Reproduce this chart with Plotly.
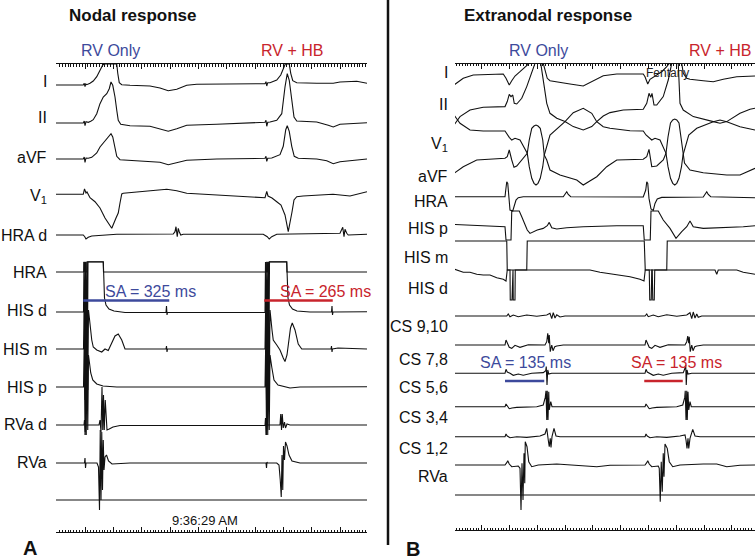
import plotly.graph_objects as go

W, H = 755, 559

# ---------------- Panel A (Nodal response) : time in ms, amplitude in display units ----------------
A_I_t = [0,109,113,116,119,123,136,149,163,176,187,193,243,247,253,263,296,376,416,449,483,523,563,836,840,843,847,856,883,899,909,917,933,939,947,963,1043,1109,1136,1203,1244]
A_I_v = [0,0,1.7,-1.7,1,0.3,1.7,4,8.3,14,20,21,21,11.7,2.3,0.3,-0.3,-1,-3,-5.7,-4.3,-0.3,0.7,1.3,3.3,-1,2.3,2.3,5,10,16.7,21,21,11.7,4.3,2.3,1.7,1.7,3,3.7,1.7]

A_II_t = [0,109,113,116,120,129,139,149,163,176,189,203,213,220,227,236,243,249,259,296,376,416,449,483,523,643,836,840,843,847,856,883,903,916,925,933,943,952,963,1043,1089,1109,1136,1244]
A_II_v = [0,0,2,-2.7,1.3,0.7,1.7,3.3,9.3,19.3,26,29.3,34.3,41,37.7,26,12.7,2.7,-1.3,-2.7,-3.3,-5.7,-8.3,-5.7,-2.3,-1.3,0.7,2.7,-3.3,0.7,1,2.7,9.3,36,49.3,42.7,22.7,6,2,1,-2.3,-4,-1.3,0.3]

A_aVF_t = [0,109,113,116,120,129,143,163,176,189,205,213,220,227,236,243,256,296,416,449,483,523,643,836,840,843,847,863,896,909,919,925,933,943,953,969,1043,1083,1109,1136,1244]
A_aVF_v = [0,0,2,-3.3,1,0.7,1.7,6,12,16,20,22.7,25.3,22,11,2.7,-0.7,-1.3,-3.3,-5.7,-4,-1.3,0,0.7,2.7,-2.3,0.7,1,4.3,12.7,29.3,33.3,27.7,12.7,2.7,0.7,0,-1.7,-4.7,-2.7,0]

A_V1_t = [0,109,114,120,124,136,156,176,196,223,240,249,256,263,269,443,483,523,836,843,848,864,883,900,916,929,944,952,963,988,1108,1176,1244]
A_V1_v = [0,0,5.3,1.3,2.3,-3.4,-7.4,-13.7,-23.7,-34,-23.7,-18.7,-8.7,0.3,1,5,3.6,1,-3.4,2.8,-1.7,-3.7,-7.4,-10.7,-20.7,-37.4,-17.7,-5.7,-2.4,-1.7,0,-1.7,2.6]

A_HRAd_t = [0,109,115,120,129,143,243,469,476,480,485,489,493,499,509,829,845,853,863,883,1136,1143,1147,1152,1156,1163,1169,1244]
A_HRAd_v = [0,0,-1.7,-4,-2.3,-1,0.7,1,3.3,8.3,-1.7,6.7,3.3,0,0.7,0.7,-1.7,-4,-1.7,0.7,1.7,5,7.7,-1.7,5.7,1.7,0,0.7]

A_HRA_t = [0,111,112,113,116,117,118,123,124,189,190,842,843,844,847,848,849,852,853,923,924,1244]
A_HRA_v = [0,0,10.3,0,0,10.3,0,0,10.3,10.3,0,0,10.3,0,0,10.3,0,0,10.3,10.3,0,0]

A_HISd_t = [0,110,112,114.8,117.6,120.4,123.2,126,128,189.2,194,200,212,232,276,440,442,444,446,836,838,840.8,843.6,846.4,849.2,852,854,922.8,928,934,946,964,1016,1102,1104,1106,1108,1244]
A_HISd_v = [0,0,50,-38,50,-38,50,-28,50,50,14,7,3,1,-0.5,-0.5,6,-3,-0.5,-0.5,50,-38,50,-38,50,-28,50,50,14,7,3,1,0,0,6,-3,0,0.3]

A_HISm_t = [0,110,113,116,118,121,124,127,130,136,143,149,163,183,196,209,224,236,249,263,276,440,442,444,446,836,839,842,844,847,850,853,856,864,869,883,896,909,916,924,932,938,945,956,969,983,1100,1102,1104,1106,1128,1244]
A_HISm_v = [0,0,49,-51,49,-51,49,-41,39,24,9,2,-1,-3,0,-1.5,6,13,15,9,0,0,3,-3,0,0,49,-51,49,-51,49,-41,39,19,9,4,-1,-9,-12.5,-6,9,21,26,19,5,0,0,3,-3,0,1,0]

A_HISp_t = [0,110,113,116,118,121,124,127,130,133,139,147,163,188,243,836,839,842,844,847,850,853,856,863,872,888,936,976,1244]
A_HISp_v = [0,0,47,-48,47,-48,42,-43,32,27,14,7,3,1,0,0,47,-48,47,-48,42,-43,32,20,7,2,-1,0,0.3]

A_RVad_t = [0,112,114,117,119,172,176,180,184,187,190,193,197,200,204,213,228,256,836,838,840,842,896,899,902,905,909,914,918,924,936,1244]
A_RVad_v = [0,0,5,-7,0,0,5,-7,38,-5,30,-5,25,5,-5,-4,-2,-0.5,-0.5,7,-10,0,0,11,-5,11,-3,3,-3,1,0,0]

A_RVa_t = [0,114,116,118,120,164,170,174,177,180,183,186,189,192,196,202,210,224,296,840,842,844,846,883,892,897,901,904,907,910,914,918,924,932,944,976,1244]
A_RVa_v = [0,0,5,-5,0,0,-4,-47,33,-37,31,-27,23,-7,6,8,2,-1,0,0,-5,1,0,0,-2,-17,-34,8,-27,17,3,21,17,8,2,0,0]

A_flat_t = [0,1244]
A_flat_v = [0,0]

A_labels = ["I", "II", "aVF", "V<sub>1</sub>", "HRA d", "HRA", "HIS d", "HIS m", "HIS p", "RVa d", "RVa"]

# SA intervals (ms on the panel time axis)
A_SA_blue = [109, 453]
A_SA_red = [833, 1107]

# ---------------- Panel B (Extranodal response) ----------------
B_I_t = [-4,33,73,193,204,217,227,240,260,280,297,353,360,369,380,420,460,513,553,593,647,753,760,771,780,800,827,847,857,907,913,927,940,993,1033,1073,1127,1200]
B_I_v = [-11,-4.3,-1,0,-4.3,-11,-6.7,-2,2.3,6.7,10.7,10.7,4,-4.3,-6.7,-8.7,-10,-12,-6.7,-1.7,0,0,-2.7,-10,-5.3,-2,2.3,7.3,10.7,10.7,0.7,-4.3,-5.3,-6.7,-7.7,-5.3,-2.7,-2]

B_II_t = [-4,20,60,113,200,209,217,224,231,237,247,267,287,307,320,343,353,367,380,407,440,473,513,547,567,593,620,673,753,767,776,783,788,796,807,833,853,867,893,897,900,913,953,1033,1060,1087,1140,1180,1200]
B_II_v = [-15.7,-7.3,-0.7,2,2.7,7.7,15,12.7,14.3,6,5.3,11,22.7,36,46,46,29.3,6,-4,-9,-12.3,-17.3,-20.7,-17.3,-12.3,-6.7,-3.3,-0.7,0,6,16,12,16,4.3,4.3,12.7,29.3,46,46,29.3,6,-0.7,-7.3,-12.3,-14,-12.3,-4,0,1]

B_V1_t = [-4,20,60,113,200,209,217,227,240,260,289,297,307,316,324,332,341,351,357,380,420,440,473,513,547,567,593,620,700,753,764,773,787,800,820,844,852,862,871,879,887,896,906,912,935,967,1033,1060,1087,1140,1200]
B_V1_v = [16,7.7,1,0,0,-4,-6.3,-9,-7.3,-9,-22.3,-35.7,-47.3,-52.3,-54,-52.3,-47.3,-35.7,-24,-4,4.3,9.3,18.3,22.7,17.7,9.3,4.3,2.7,0.3,0,-4,-6.3,-9,-7.3,-9,-22.3,-35.7,-47.3,-52.3,-54,-52.3,-47.3,-35.7,-24,-4,2.7,9.3,11,9.3,4.3,1]

B_aVF_t = [-4,33,87,200,209,217,227,236,247,267,289,297,307,316,324,332,341,351,357,367,380,420,487,513,567,607,647,753,767,776,787,807,833,844,852,862,871,879,887,896,909,918,940,993,1087,1140,1200]
B_aVF_v = [-14.3,-7.7,-1,0.7,2.3,9,-1,-8.3,-7,-1,5.7,19,30.7,33,34,33,30.7,19,4,-1,-11,-16,-21,-26,-17.7,-7.7,-1,-0.3,2.3,9.7,-7.7,-7,-1,5.7,22,36,39,40,39,36,10,-4,-11,-13.7,-16,-16,-9.3]

B_HRA_t = [-4,200,203,207,211,215,220,231,237,244,253,273,433,440,447,453,463,753,763,767,771,776,784,793,800,809,827,993,1000,1007,1013,1023,1200]
B_HRA_v = [0,0,6.7,15,13.3,1.7,-13.3,-14.3,-8.3,-3.3,-1,0,0,2.3,5,2.3,0,-0.3,6.7,15,13.3,-1.7,-12.3,-13.7,-6.7,-2.3,-0.7,-0.3,2.3,5,2.3,0,-1]

B_HISp_t = [-4,113,200,204,224,227,257,267,280,289,300,313,329,353,369,377,387,407,447,513,647,753,757,781,784,813,833,860,884,907,927,940,953,993,1073,1153,1200]
B_HISp_v = [1.3,0,-1,-14.3,-14.3,14.7,14.7,9,0.7,-4.3,-7.7,-6,-4.3,-2.7,0,3.3,-2,-3.3,-2,-1,0,0,-14.3,-14.3,14.7,14.7,5.7,-2.7,-12.7,-6,-1,4.7,-1,-2.7,-2,-1,0]

B_HISm_t = [-4,207,209,287,289,757,761,847,849,1200]
B_HISm_v = [0,0,-29,-29,0,0,-29,-29,0,0]

B_HISd_t = [-4,33,60,87,113,140,167,193,204,209,220,221,228,229,232,233,240,241,540,580,647,700,740,756,761,777,779,785,787,789,791,797,799,1040,1047,1053,1127,1153,1200]
B_HISd_v = [1,-2.3,-2.3,-4.3,-5,-5,-7.7,-9.3,-11,0,0,-30,-30,0,0,-30,-30,0,0,-2.3,-5,-6.7,-9.3,-11,0,0,-30,-30,0,0,-30,-30,0,0,-4.3,0,0,-2.3,-4.3]

B_CS910_t = [-4,207,213,220,233,253,287,327,367,380,387,393,400,407,420,440,760,767,773,793,813,847,887,927,940,947,953,960,967,973,987,1200]
B_CS910_v = [0,0,2,-0.7,1,-0.7,1,-0.3,1,2.7,-2.7,3.3,-2,1.3,-1,0,0,2,-0.7,1,-0.7,1.3,-0.3,1,3.3,-2.7,4,-2,2,-1.3,0,0]

B_CS78_t = [-4,200,204,209,217,227,240,260,293,360,367,371,375,377,381,387,392,399,407,433,760,764,769,777,787,800,820,853,920,927,931,935,937,941,947,952,959,967,993,1200]
B_CS78_v = [0,0,5,1.7,-2.3,-3.3,-0.3,-2.3,0.3,0,3.3,11.7,1.7,10,-6.7,0,-5.7,-1.7,-1,0,0,5,1.7,-2.3,-3.3,-0.3,-2.3,0.3,0,3.3,9,1.7,8.3,-6.7,0,-5.7,-1.7,-1,0,0]

B_CS56_t = [-4,200,204,209,220,233,253,273,307,353,363,365,368,371,375,387,760,764,769,780,793,813,833,867,913,920,923,925,928,932,947,1200]
B_CS56_v = [0,0,4,1.3,0,-2,-0.7,-2,0,0.7,2.7,6.7,-11.7,3.3,-0.7,0,0,4,1.3,0,-2,-0.7,-2,0,0.7,5,8.3,-11.7,3.3,-0.7,0,0]

B_CS34_t = [-4,200,204,209,217,228,247,327,353,361,364,367,369,372,375,377,383,388,760,764,769,777,788,807,887,911,919,921,924,927,929,932,935,940,945,1200]
B_CS34_v = [0,0,2.7,0.7,-2,-1.3,-0.7,0,1.7,9.3,16,-13.3,16,-13.3,15,-3.3,5,0,0,2.7,0.7,-2,-1.3,-0.7,0,1.7,9.3,16,-13.3,16,-13.3,15,-3.3,5,0,0]

B_CS12_t = [-4,200,204,209,220,247,287,340,360,367,373,377,381,384,388,396,404,420,760,764,769,780,807,847,900,920,924,928,932,935,940,951,960,980,1200]
B_CS12_v = [0,0,2.7,0.7,-1,0,-0.7,0.7,2.7,8.3,-3.3,-10,-1.7,-10.7,0,8.3,0.7,0,0,2.7,0.7,-1,0,-0.7,0.7,1.7,-3.3,-11.7,-1.7,-11.7,-1.7,7.3,0.7,0,0]

B_RVa_t = [-4,200,207,211,217,227,253,260,264,268,272,276,279,281,288,295,307,333,407,487,567,620,760,767,771,777,787,813,817,821,825,829,833,836,840,849,857,871,900,993,1047,1087,1140,1200]
B_RVa_v = [0,0,2.3,4.3,1,-1.7,-1,-3.3,-45,1.7,-35,11.7,-18.3,23.3,18.3,3.3,-1.7,0,1,0,-1.7,-0.3,0,2.3,4.3,1,-1.7,-1,-3.3,-36.7,3.3,-26.7,11.7,-11.7,21,16.7,3.3,-1.7,0,1,1,-1.7,-0.3,0]

B_flat_t = [-4,1200]
B_flat_v = [0,0]

B_labels = ["I", "II", "V<sub>1</sub>", "aVF", "HRA", "HIS p", "HIS m", "HIS d",
            "CS 9,10", "CS 7,8", "CS 5,6", "CS 3,4", "CS 1,2", "RVa"]

B_SA_blue = [200, 357]
B_SA_red = [757, 911]

# ---------------- layout positions (pixels from top of the page) ----------------
A_base = [85, 123, 159, 194.3, 235, 272, 312, 349, 387, 425, 463, 500]
A_label_y = [82, 117, 157.5, 196, 235, 272, 310.5, 349, 387, 424.5, 462.5]
B_base = [74, 109.3, 131, 159, 196.7, 225.7, 241, 270, 316, 345, 373.3, 406.7, 436.7, 465, 495]
B_label_y = [73, 104, 144, 176, 201, 228, 257.5, 288, 326, 359, 387.5, 417.5, 448, 476]

FONT = "Liberation Sans, Arial, Helvetica, sans-serif"
BLUE = "#3d4a9c"
RED = "#c8242c"
BLACK = "#111111"

A_series = [(A_I_t, A_I_v), (A_II_t, A_II_v), (A_aVF_t, A_aVF_v), (A_V1_t, A_V1_v),
            (A_HRAd_t, A_HRAd_v), (A_HRA_t, A_HRA_v), (A_HISd_t, A_HISd_v), (A_HISm_t, A_HISm_v),
            (A_HISp_t, A_HISp_v), (A_RVad_t, A_RVad_v), (A_RVa_t, A_RVa_v), (A_flat_t, A_flat_v)]
B_series = [(B_I_t, B_I_v), (B_II_t, B_II_v), (B_V1_t, B_V1_v), (B_aVF_t, B_aVF_v),
            (B_HRA_t, B_HRA_v), (B_HISp_t, B_HISp_v), (B_HISm_t, B_HISm_v), (B_HISd_t, B_HISd_v),
            (B_CS910_t, B_CS910_v), (B_CS78_t, B_CS78_v), (B_CS56_t, B_CS56_v), (B_CS34_t, B_CS34_v),
            (B_CS12_t, B_CS12_v), (B_RVa_t, B_RVa_v), (B_flat_t, B_flat_v)]

fig = go.Figure()
line_style = dict(color=BLACK, width=1.1)

for i, (t, v) in enumerate(A_series):
    base = A_base[i]
    xa = "x3" if i == len(A_series) - 1 else "x"
    fig.add_trace(go.Scatter(x=t, y=[a - base for a in v], mode="lines", line=line_style,
                             xaxis=xa, yaxis="y", hoverinfo="skip", showlegend=False))
for i, (t, v) in enumerate(B_series):
    base = B_base[i]
    xa = "x4" if i == len(B_series) - 1 else "x2"
    fig.add_trace(go.Scatter(x=t, y=[a - base for a in v], mode="lines", line=line_style,
                             xaxis=xa, yaxis="y2", hoverinfo="skip", showlegend=False))


def ruler(domain, rng, tick0, dtick, side, anchor, overlaying=None):
    d = dict(domain=domain, range=rng, anchor=anchor, side=side, showline=True,
             linecolor=BLACK, linewidth=1, ticks="inside", ticklen=5, tickwidth=1,
             tickcolor=BLACK, tick0=tick0, dtick=dtick, showticklabels=False,
             showgrid=False, zeroline=False, fixedrange=True,
             minor=dict(ticks="inside", ticklen=2.5, tickwidth=0.8, tickcolor=BLACK,
                        tick0=tick0, dtick=dtick / 10, showgrid=False))
    if overlaying:
        d["overlaying"] = overlaying
    return d


annotations = []


def label(text, px, py, size=16, color=BLACK, xanchor="right", bold=False):
    annotations.append(dict(text=text, x=px / W, y=1 - py / H,
                            xref="paper", yref="paper", xanchor=xanchor, yanchor="middle",
                            showarrow=False,
                            font=dict(family=FONT, size=size, color=color,
                                      weight="bold" if bold else "normal")))


for txt, py in zip(A_labels, A_label_y):
    label(txt, 49, py)
for txt, py in zip(B_labels, B_label_y):
    label(txt, 450, py)

label("Nodal response", 67, 15.5, size=17, xanchor="left", bold=True)
label("Extranodal response", 462, 15.5, size=17, xanchor="left", bold=True)
label("RV Only", 79, 50, color=BLUE, xanchor="left")
label("RV + HB", 259, 50, color=RED, xanchor="left")
label("RV Only", 507, 50, color=BLUE, xanchor="left")
label("RV + HB", 687, 50, color=RED, xanchor="left")
label("9:36:29 AM", 205, 520, size=13, xanchor="center")
label("Fentany", 644, 73, size=12, color="#222222", xanchor="left")
label("A", 30, 548, size=20, xanchor="center", bold=True)
label("B", 413, 549, size=20, xanchor="center", bold=True)

# SA interval annotations, attached to the panel time axes
sa_items = [("SA = 325 ms", A_SA_blue, BLUE, "x", "y", 300.5, 291.5, 189),
            ("SA = 265 ms", A_SA_red, RED, "x", "y", 300.5, 291.5, 889),
            ("SA = 135 ms", B_SA_blue, BLUE, "x2", "y2", 381, 362, 93),
            ("SA = 135 ms", B_SA_red, RED, "x2", "y2", 381, 362, 697)]
shapes = []
for txt, seg, col, xr, yr, ly, ty, tx in sa_items:
    shapes.append(dict(type="line", xref=xr, yref=yr, x0=seg[0], x1=seg[1], y0=-ly, y1=-ly,
                       line=dict(color=col, width=2.5)))
    annotations.append(dict(text=txt, x=tx, y=-ty, xref=xr, yref=yr, xanchor="left",
                            yanchor="middle", showarrow=False,
                            font=dict(family=FONT, size=16, color=col)))

# vertical divider between panels
shapes.append(dict(type="line", xref="paper", yref="paper", x0=388 / W, x1=388 / W,
                   y0=1, y1=1 - 545 / H, line=dict(color=BLACK, width=2.5)))

fig.update_layout(
    width=W, height=H, autosize=False,
    margin=dict(l=0, r=0, t=0, b=0),
    paper_bgcolor="white", plot_bgcolor="rgba(0,0,0,0)",
    showlegend=False,
    xaxis=ruler([56 / W, 367 / W], [0, 1244], 2.8, 113.33, "bottom", "y"),
    xaxis3=ruler([56 / W, 367 / W], [0, 1244], 2.8, 113.33, "top", "y", overlaying="x"),
    xaxis2=ruler([455 / W, 1.0], [0, 1200], 106.8, 111.2, "bottom", "y2"),
    xaxis4=ruler([455 / W, 1.0], [0, 1200], 106.8, 111.2, "top", "y2", overlaying="x2"),
    yaxis=dict(domain=[(H - 532) / H, (H - 64) / H], range=[-532, -64], visible=False,
               anchor="x", fixedrange=True),
    yaxis2=dict(domain=[(H - 530) / H, (H - 63.5) / H], range=[-530, -63.5], visible=False,
                anchor="x2", fixedrange=True),
    annotations=annotations,
    shapes=shapes,
)

fig.write_html("out.html")
